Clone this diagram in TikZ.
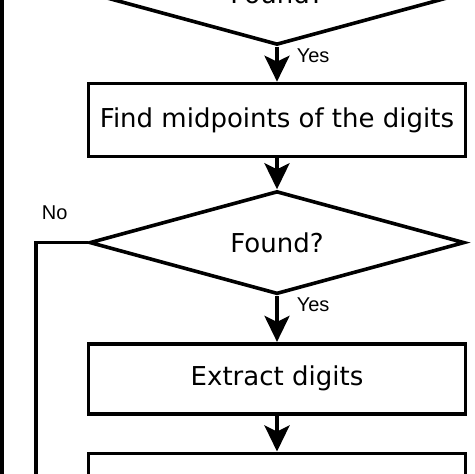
\documentclass[tikz,border=0pt]{standalone}
\usepackage{fontspec}
\setmainfont{DejaVu Sans}
\newfontfamily\labelfont{Liberation Sans}
\usetikzlibrary{shapes.geometric, arrows.meta, positioning}

\begin{document}
\begin{tikzpicture}[
            process/.style ={rectangle, draw=black, line width=1.8pt,
                             minimum width=188.5pt, minimum height=36.5pt,
                             font=\fontsize{13}{15}\selectfont},
            decision/.style={diamond, aspect=3.6, draw=black, line width=1.8pt, inner sep=0pt,
                             minimum width=187.5pt, minimum height=51.5pt,
                             font=\fontsize{13}{15}\selectfont},
            answer/.style  ={font=\labelfont\fontsize{10}{12}\selectfont, inner sep=0pt},
            arr/.style     ={-{Stealth[length=13pt, width=12.5pt, inset=3pt]}, line width=1.8pt},
            wire/.style    ={line width=1.8pt}
        ]
            % --- Visible frame ---
            \useasboundingbox (0,0) rectangle (237pt,-237pt);
            \clip (0,0) rectangle (237pt,-237pt);

            % --- Nodes (main column) ---
            \node[process] (midpoints) at (138.5pt,-60pt) {Find midpoints of the digits};
            \node[decision, above=17.5pt of midpoints] (found1)  {Found?};
            \node[decision, below=15.5pt of midpoints] (found2)  {Found?};
            \node[process,  below=23pt of found2, minimum height=35pt] (extract) {Extract digits};
            \node[process,  below=18pt of extract]     (nextstep) {};

            % --- Free ends (lines leaving the frame) ---
            \coordinate (backtop) at (0.9pt,6pt);
            \coordinate (backbot) at (0.9pt,-245pt);
            \coordinate (noexit)  at (18pt,-245pt);

            % --- Links ---
            \draw[arr] (found1.south)    -- node[answer, pos=0, anchor=north west, xshift=9pt]{Yes} (midpoints.north);
            \draw[arr] (midpoints.south) -- (found2.north);
            \draw[arr] (found2.south)    -- node[answer, pos=0, anchor=north west, xshift=9pt]{Yes} (extract.north);
            \draw[arr] (extract.south)   -- (nextstep.north);

            % Branch "No" (leaves along the left margin)
            \draw[wire] (found2.west) -| node[answer, pos=0.32, above=10.5pt]{No} (noexit);

            % Return line along the left edge
            \draw[wire] (backtop) -- (backbot);

        \end{tikzpicture}
\end{document}
